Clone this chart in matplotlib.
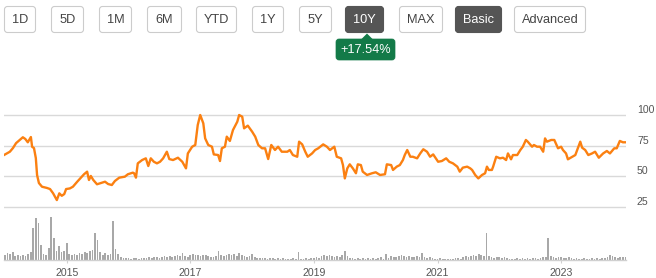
import matplotlib
matplotlib.use("Agg")
import matplotlib.pyplot as plt
import numpy as np
from matplotlib.patches import FancyBboxPatch, Polygon

plt.rcParams['font.family'] = ['Liberation Sans', 'DejaVu Sans']

# ---------------- data ----------------
price_years = [
    2013.985, 2014.08, 2014.13, 2014.18, 2014.24, 2014.29, 2014.33, 2014.37, 2014.42, 2014.44,
    2014.47, 2014.50, 2014.52, 2014.55, 2014.60, 2014.68, 2014.73, 2014.78, 2014.84, 2014.88,
    2014.92, 2014.96, 2014.99, 2015.05, 2015.10, 2015.17, 2015.23, 2015.28, 2015.33, 2015.36,
    2015.39, 2015.43, 2015.49, 2015.54, 2015.62, 2015.67, 2015.73, 2015.78, 2015.85, 2015.94,
    2015.99, 2016.07, 2016.09, 2016.12, 2016.15, 2016.22, 2016.28, 2016.32, 2016.36, 2016.41,
    2016.46, 2016.51, 2016.56, 2016.62, 2016.66, 2016.72, 2016.80, 2016.87, 2016.93, 2016.96,
    2017.03, 2017.08, 2017.12, 2017.16, 2017.21, 2017.24, 2017.29, 2017.35, 2017.38, 2017.45,
    2017.48, 2017.51, 2017.56, 2017.59, 2017.64, 2017.69, 2017.76, 2017.79, 2017.84, 2017.87,
    2017.93, 2018.00, 2018.05, 2018.10, 2018.16, 2018.21, 2018.26, 2018.31, 2018.37, 2018.42,
    2018.48, 2018.57, 2018.61, 2018.66, 2018.73, 2018.76, 2018.81, 2018.86, 2018.90, 2018.97,
    2019.02, 2019.07, 2019.15, 2019.21, 2019.26, 2019.33, 2019.37, 2019.44, 2019.47, 2019.50,
    2019.54, 2019.58, 2019.63, 2019.68, 2019.71, 2019.76, 2019.79, 2019.86, 2019.94, 2020.00,
    2020.07, 2020.15, 2020.18, 2020.25, 2020.28, 2020.34, 2020.39, 2020.44, 2020.47, 2020.51,
    2020.56, 2020.60, 2020.67, 2020.72, 2020.77, 2020.83, 2020.88, 2020.93, 2021.01, 2021.07,
    2021.14, 2021.19, 2021.25, 2021.32, 2021.36, 2021.41, 2021.48, 2021.53, 2021.56, 2021.61,
    2021.66, 2021.72, 2021.77, 2021.80, 2021.83, 2021.88, 2021.90, 2021.95, 2022.01, 2022.06,
    2022.11, 2022.14, 2022.19, 2022.22, 2022.29, 2022.34, 2022.38, 2022.43, 2022.46, 2022.53,
    2022.56, 2022.61, 2022.66, 2022.71, 2022.74, 2022.77, 2022.84, 2022.89, 2022.95, 2023.00,
    2023.03, 2023.08, 2023.11, 2023.18, 2023.23, 2023.27, 2023.31, 2023.34, 2023.39, 2023.44,
    2023.50, 2023.55, 2023.61, 2023.68, 2023.74, 2023.79, 2023.86, 2023.90, 2023.95, 2024.00,
    2024.05,
]
price_values = [
    67.3, 70.0, 73.0, 77.0, 79.6, 81.8, 80.4, 77.7, 82.0, 74.0,
    73.0, 64.8, 51.0, 44.4, 41.4, 40.4, 39.5, 36.0, 30.5, 36.0,
    34.0, 35.4, 39.5, 40.0, 41.4, 45.5, 48.8, 51.6, 53.7, 46.9,
    50.2, 46.9, 43.4, 44.2, 45.5, 43.6, 42.8, 46.1, 48.8, 49.6,
    51.6, 52.9, 52.4, 48.8, 60.5, 63.2, 64.6, 58.3, 64.6, 61.8,
    60.5, 61.8, 64.6, 70.0, 64.0, 63.2, 65.1, 61.8, 56.4, 68.6,
    74.1, 75.5, 91.8, 100.0, 93.2, 80.9, 75.5, 74.1, 67.8, 67.3,
    62.4, 72.8, 74.1, 82.3, 78.8, 87.7, 94.5, 100.0, 98.6, 89.1,
    91.3, 86.4, 82.3, 75.5, 72.8, 72.8, 64.0, 75.5, 71.4, 74.1,
    70.0, 70.0, 71.4, 67.3, 65.9, 78.2, 76.0, 70.0, 65.9, 68.6,
    71.4, 72.8, 76.0, 74.1, 71.4, 74.1, 65.9, 64.6, 59.1, 48.2,
    56.4, 59.7, 56.4, 52.4, 59.7, 59.1, 53.7, 51.0, 52.4, 53.2,
    51.0, 51.6, 59.7, 59.1, 55.1, 57.8, 59.1, 63.2, 67.3, 71.4,
    65.9, 65.9, 64.6, 68.6, 72.0, 70.0, 65.9, 67.8, 61.8, 62.4,
    64.6, 61.8, 60.5, 57.8, 53.7, 57.0, 57.8, 56.4, 55.1, 51.0,
    48.2, 51.0, 52.4, 57.8, 55.1, 55.1, 57.8, 65.9, 64.6, 65.1,
    63.2, 68.6, 63.8, 67.3, 67.3, 71.4, 74.1, 79.6, 78.2, 74.1,
    75.5, 74.1, 74.1, 70.0, 80.9, 78.2, 79.6, 79.6, 72.8, 74.1,
    71.4, 68.6, 63.8, 65.9, 67.3, 72.8, 78.2, 73.3, 71.4, 67.3,
    68.6, 70.0, 65.1, 68.6, 70.6, 68.6, 72.8, 72.8, 78.8, 77.7,
    77.7,
]

# volume, half-monthly, starting Jan 2014 (units: 100k shares)
vol_start = 2014.0
vol_values = [
    # 2014
    5, 7, 6, 8, 4, 5, 4, 5, 4, 6, 8, 32, 42, 37, 15, 6, 5, 12, 43, 22, 9, 14, 8, 9,
    # 2015
    17, 6, 5, 6, 5, 7, 6, 8, 7, 9, 10, 27, 20, 8, 5, 7, 5, 6, 39, 11, 6, 3, 2, 2,
    # 2016
    2, 1, 2, 2, 1, 2, 2, 2, 3, 2, 3, 3, 2, 3, 4, 3, 4, 3, 4, 5, 4, 7, 4, 3,
    # 2017
    5, 6, 5, 5, 4, 5, 5, 4, 3, 3, 4, 9, 5, 4, 5, 6, 5, 6, 4, 7, 5, 4, 3, 4,
    # 2018
    6, 3, 2, 2, 2, 2, 1, 2, 2, 1, 2, 1, 2, 1, 1, 1, 2, 1, 8, 1, 1, 2, 1, 2,
    # 2019
    2, 3, 2, 4, 5, 4, 5, 4, 3, 4, 3, 5, 9, 4, 2, 2, 1, 2, 1, 2, 1, 2, 1, 2,
    # 2020
    1, 2, 3, 1, 6, 2, 4, 3, 3, 4, 5, 4, 3, 4, 3, 3, 4, 3, 7, 3, 2, 3, 2, 1,
    # 2021
    1, 2, 1, 1, 1, 1, 1, 2, 2, 1, 3, 4, 3, 4, 5, 4, 6, 5, 4, 27, 4, 3, 2, 3,
    # 2022
    3, 2, 3, 2, 1, 1, 1, 2, 1, 2, 1, 2, 1, 2, 2, 1, 2, 3, 3, 22, 4, 3, 2, 3,
    # 2023
    3, 2, 2, 3, 2, 1, 2, 1, 1, 2, 1, 1, 2, 1, 2, 1, 2, 2, 3, 5, 4, 3, 2, 3,
    # 2024
    3, 3,
]
vol_years = vol_start + np.arange(len(vol_values)) / 24.0

y_ticks = [25, 50, 75, 100]
x_ticks = [2015, 2017, 2019, 2021, 2023]
x_ticklabels = ["2015", "2017", "2019", "2021", "2023"]
xlim = (2013.985, 2024.05)

buttons = ["1D", "5D", "1M", "6M", "YTD", "1Y", "5Y", "10Y", "MAX", "Basic", "Advanced"]
active_buttons = ["10Y", "Basic"]
change_label = "+17.54%"

# ---------------- layout ----------------
W, H = 656, 278
fig = plt.figure(figsize=(W / 100, H / 100), dpi=100)
fig.patch.set_facecolor("white")

# UI overlay in pixel coords
ui = fig.add_axes([0, 0, 1, 1], zorder=0)
ui.set_xlim(0, W)
ui.set_ylim(H, 0)
ui.axis("off")

btn_x = [(4, 36), (51, 84), (99, 132), (147, 182), (196, 237), (252, 284),
         (299, 332), (345, 384), (399, 443), (455, 502), (514, 586)]
for (x0, x1), lab in zip(btn_x, buttons):
    active = lab in active_buttons
    fc = "#555555" if active else "white"
    ec = "#555555" if active else "#cccccc"
    p = FancyBboxPatch((x0 + 0.5, 6.5), x1 - x0 - 1, 26, boxstyle="round,pad=0,rounding_size=3",
                       fc=fc, ec=ec, lw=0.8)
    ui.add_patch(p)
    ui.text((x0 + x1) / 2, 19.8, lab, ha="center", va="center", fontsize=9.2,
            color="white" if active else "#444444")

# change badge
ui.add_patch(FancyBboxPatch((336, 39), 59, 21, boxstyle="round,pad=0,rounding_size=3",
                            fc="#137a48", ec="#137a48", lw=0.5))
ui.add_patch(Polygon([(361, 39.5), (367, 33.5), (373, 39.5)], closed=True, fc="#137a48", ec="none"))
ui.text(365.5, 49.8, change_label, ha="center", va="center", fontsize=9.2, color="white")

# price axes: pixel y 100..212
ymin = 100 - (212 - 115) * 25 / 30.6
ymax = 100 - (100 - 115) * 25 / 30.6
ax = fig.add_axes([4 / W, 1 - 212 / H, 622 / W, 112 / H], zorder=2)
ax.patch.set_alpha(0)
ax.set_xlim(*xlim)
ax.set_ylim(ymin, ymax)
for s in ax.spines.values():
    s.set_visible(False)
ax.set_yticks(y_ticks)
ax.set_xticks([])
ax.tick_params(axis="y", length=0, labelleft=False)
ax.grid(axis="y", color="#d9d9d9", lw=1.0)
ax.plot(price_years, price_values, color="#fb8011", lw=1.7, solid_joinstyle="round", zorder=3)
for v in y_ticks:
    ax.annotate(str(v), xy=(1, v), xycoords=("axes fraction", "data"), xytext=(7.9, 3.6),
                textcoords="offset points", ha="left", va="center", fontsize=7.6, color="#555555")

# volume axes: pixel y 215..260
axv = fig.add_axes([4 / W, 1 - 260 / H, 622 / W, 45 / H], zorder=1)
axv.patch.set_alpha(0)
axv.set_xlim(*xlim)
axv.set_ylim(0, 45)
for k, s in axv.spines.items():
    s.set_visible(k == "bottom")
axv.spines["bottom"].set_color("#d0d0d0")
axv.spines["bottom"].set_linewidth(1.0)
axv.bar(vol_years, vol_values, width=1.7 / 61.8, color="#a8a8a8", align="center", lw=0)
axv.set_yticks([])
axv.set_xticks(x_ticks)
axv.set_xticklabels(x_ticklabels)
axv.tick_params(axis="x", length=2.5, color="#d0d0d0", pad=3.2, labelsize=7.6, labelcolor="#555555")

fig.savefig("out.png", dpi=100, facecolor="white")
